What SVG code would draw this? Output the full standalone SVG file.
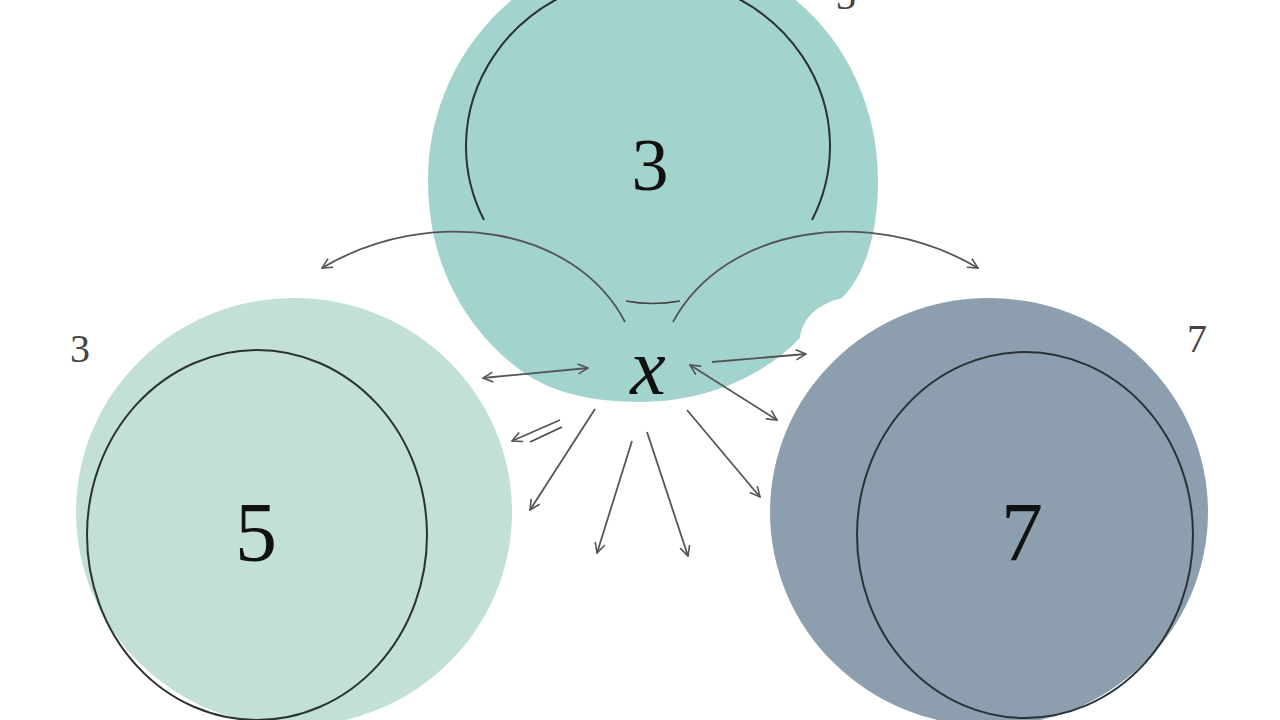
<svg xmlns="http://www.w3.org/2000/svg" width="1280" height="720" viewBox="0 0 1280 720">
<defs>
<style>
.num{font-family:"Liberation Serif","DejaVu Serif",serif;fill:#111;text-anchor:middle}
.lbl{font-family:"Liberation Serif","DejaVu Serif",serif;fill:#444;text-anchor:middle;font-size:40px}
.ring{fill:none;stroke:#2a3236;stroke-width:2}
.arr{fill:none;stroke:#555;stroke-width:1.8;marker-end:url(#ah)}
.arr2{fill:none;stroke:#555;stroke-width:1.8;marker-end:url(#ah);marker-start:url(#ah)}
.thin{fill:none;stroke:#444;stroke-width:1.5}
</style>
<marker id="ah" viewBox="0 0 12 12" refX="11" refY="6" markerWidth="12" markerHeight="12" markerUnits="userSpaceOnUse" orient="auto-start-reverse">
<path d="M1,1 L11,6 L1,11" fill="none" stroke="#555" stroke-width="1.6"/>
</marker>
</defs>
<rect width="1280" height="720" fill="#fff"/>
<g id="node-5">
<ellipse cx="294" cy="512" rx="218" ry="214" fill="#c3e0d6"/>
<ellipse class="ring" cx="257" cy="535" rx="170" ry="185"/>
<text class="num" x="256" y="561" font-size="84">5</text>
</g>
<g id="node-7">
<ellipse cx="989" cy="512" rx="219" ry="214" fill="#8d9fae"/>
<ellipse class="ring" cx="1025" cy="535" rx="168" ry="183"/>
<text class="num" x="1022" y="561" font-size="84">7</text>
</g>
<g id="node-3">
<path d="M652 -50 C790 -50 878 60 878 180 C878 240 862 278 842 298 C818 304 802 318 800 338 C760 380 700 402 640 402 C580 402 545 388 520 370 C470 332 428 270 428 180 C428 60 520 -50 652 -50 Z" fill="#a3d3cd"/>
<path class="ring" d="M484 220 A182 170 0 1 1 812 220"/>
<text class="num" x="650" y="190" font-size="74">3</text>
<text class="num" x="648" y="394" font-size="80" font-style="italic">x</text>
</g>
<g id="labels">
<text class="lbl" x="80" y="362">3</text>
<text class="lbl" x="1197" y="352">7</text>
<text class="lbl" x="846" y="9">3</text>
</g>
<g id="connectors">
<path class="arr" d="M625 322 C575 226 430 204 322 268"/>
<path class="arr" d="M673 322 C725 226 870 204 978 268"/>
<path class="thin" d="M626 301 Q652 306 680 301"/>
<line class="arr2" x1="483" y1="378" x2="588" y2="368"/>
<line class="arr" x1="712" y1="362" x2="806" y2="354"/>
<line class="arr2" x1="690" y1="365" x2="777" y2="420"/>
<line class="arr" x1="560" y1="420" x2="512" y2="441"/>
<line class="thin" x1="562" y1="427" x2="530" y2="442"/>
<line class="arr" x1="595" y1="409" x2="530" y2="510"/>
<line class="arr" x1="632" y1="441" x2="597" y2="553"/>
<line class="arr" x1="647" y1="432" x2="688" y2="556"/>
<line class="arr" x1="687" y1="410" x2="760" y2="497"/>
</g>
</svg>
